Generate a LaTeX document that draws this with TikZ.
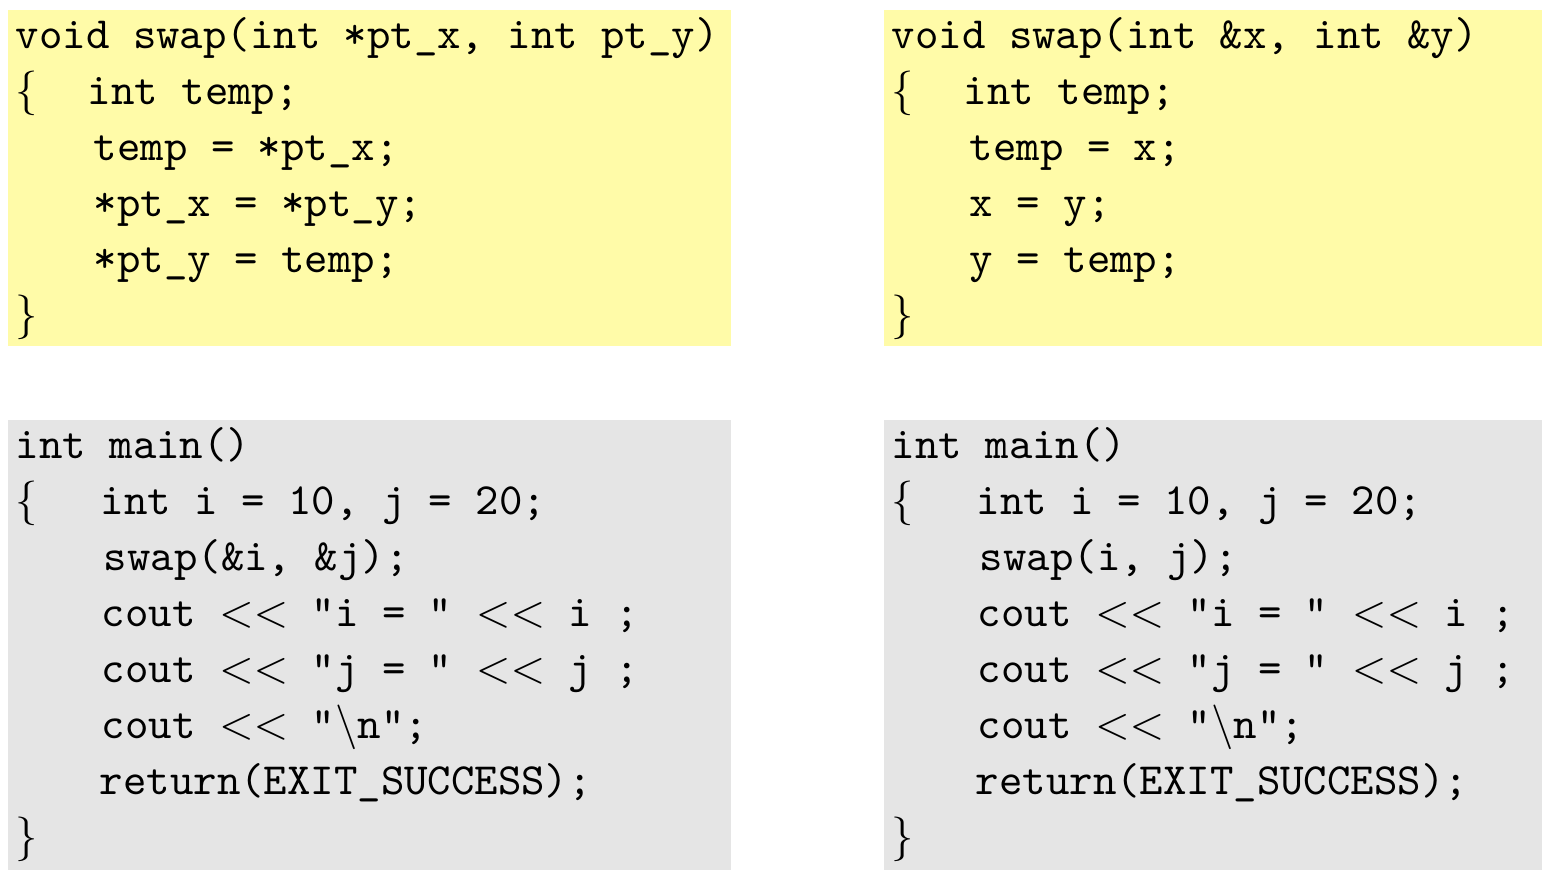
\documentclass[tikz,border=0pt]{standalone}
\definecolor{codeyellow}{HTML}{FFFBA8}
\definecolor{codegray}{HTML}{E5E5E5}
\begin{document}
\begin{tikzpicture}[x=0.2241pt,y=-0.2241pt,
  ln/.style={anchor=base west,inner sep=0pt,font=\fontsize{10}{12}\selectfont\ttfamily}]
\useasboundingbox (0,0) rectangle (1554,880);
\fill[codeyellow] (8,10) rectangle (731,346);
\fill[codeyellow] (884,10) rectangle (1542,346);
\fill[codegray] (8,420) rectangle (731,870);
\fill[codegray] (884,420) rectangle (1542,870);
% top left
\node[ln] (a1) at (15,48) {void swap(int *pt\textunderscore x, int pt\textunderscore y)};
\node[ln] (a2b) at (15,104) {$\{$};
\node[ln] (a2) at (87,104) {int temp;};
\node[ln] (a3) at (93,160) {temp = *pt\textunderscore x;};
\node[ln] (a4) at (93,216) {*pt\textunderscore x = *pt\textunderscore y;};
\node[ln] (a5) at (93,272) {*pt\textunderscore y = temp;};
\node[ln] (a6) at (15,328) {$\}$};
% top right
\node[ln] (b1) at (891,48) {void swap(int \&x, int \&y)};
\node[ln] (b2b) at (891,104) {$\{$};
\node[ln] (b2) at (963,104) {int temp;};
\node[ln] (b3) at (969,160) {temp = x;};
\node[ln] (b4) at (969,216) {x = y;};
\node[ln] (b5) at (969,272) {y = temp;};
\node[ln] (b6) at (891,328) {$\}$};
% bottom
\foreach \dx/\p in {0/c,876/d}{
\node[ln] (\p1) at (15+\dx,458) {int main()};
\node[ln] (\p2b) at (15+\dx,514) {$\{$};
\node[ln] (\p2) at (100+\dx,514) {int i = 10, j = 20;};
\node[ln] (\p4) at (101+\dx,626) {cout $<<$ "i = " $<<$ i ;};
\node[ln] (\p5) at (101+\dx,682) {cout $<<$ "j = " $<<$ j ;};
\node[ln] (\p6) at (101+\dx,738) {cout $<<$ "$\backslash$n";};
\node[ln] (\p7) at (99+\dx,794) {return(EXIT\textunderscore SUCCESS);};
\node[ln] (\p8) at (15+\dx,850) {$\}$};
}
\node[ln] (c3) at (103,570) {swap(\&i, \&j);};
\node[ln] (d3) at (979,570) {swap(i, j);};
\end{tikzpicture}
\end{document}
